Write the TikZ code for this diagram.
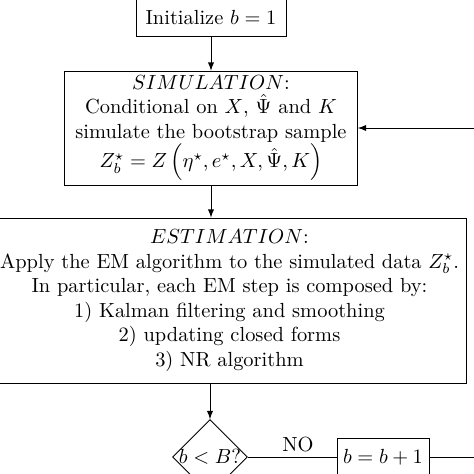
\documentclass[tikz,border=0pt]{standalone}
\usepackage{amssymb}
\usepackage{amsmath}
\usetikzlibrary{arrows,shapes.geometric}

\begin{document}
\begin{tikzpicture}[x=0.4894pt,y=-0.4894pt,>=latex]
	\tikzset{StepBox/.style={draw, align=center, inner sep=2pt},
		TestBox/.style={draw, diamond, aspect=1, inner sep=-0.3pt}}
	\useasboundingbox (0,0) rectangle (474,474);
	\clip (0,0) rectangle (474,474);
	\node[StepBox, minimum width=73.4pt, minimum height=18.6pt] (Init) at (211,17.5) {Initialize $b=1$};
	\node[StepBox, minimum width=143.4pt, minimum height=53.8pt] (Sim) at (211,128)
		{$SIMULATION$:\\ Conditional on $X$, $\hat{\Psi}$ and $K$\\ simulate the bootstrap sample\\
		$Z_b^{\star}=Z\left(\eta^{\star},e^{\star},X,\hat{\Psi},K\right)$};
	\node[StepBox, minimum width=231.5pt, minimum height=80.8pt] (Est) at (229.5,300.5)
		{$ESTIMATION$:\\ Apply the EM algorithm to the simulated data $Z_b^{\star}$.\\
		In particular, each EM step is composed by:\\ 1) Kalman filtering and smoothing\\
		2) updating closed forms\\ 3) NR algorithm};
	\node[TestBox] (Test) at (210,457) {$b<B$?};
	\node[StepBox, minimum width=45pt, minimum height=18.6pt] (Inc) at (383,457) {$b=b+1$};
	\node (No) at (298,445) {NO};
	\coordinate (Back) at (490,300);
	% arrows
	\draw[->] (Init) -- (Sim);
	\draw[->] (Sim) -- (Sim |- Est.north);
	\draw[->] (Est.south -| Test) -- (Test);
	\draw (Test) -- (Inc);
	\draw[->] (Inc) -- (Inc -| Back) |- (Sim);
\end{tikzpicture}
\end{document}
